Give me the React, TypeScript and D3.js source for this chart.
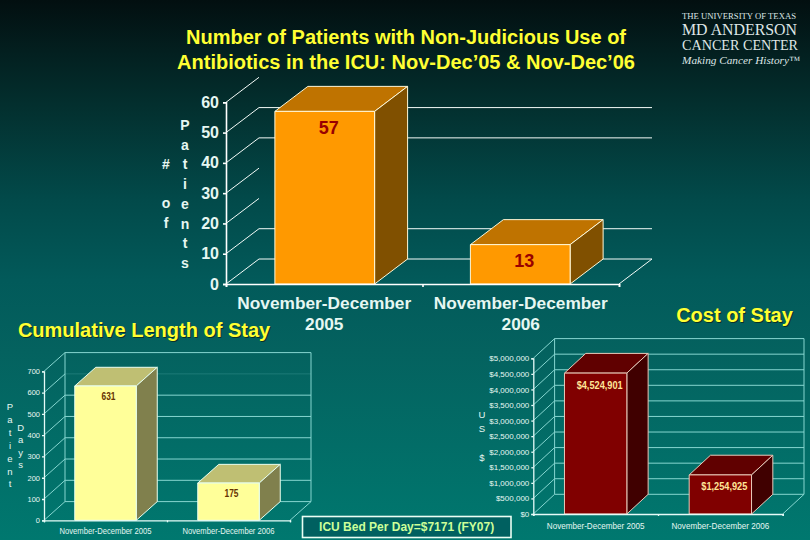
import { useEffect, useRef } from "react";
import * as d3 from "d3";

const font = "'Liberation Sans', Arial, sans-serif";

// top chart
const patientCats = ["November-December 2005", "November-December 2006"];
const patientValues = [57, 13];
const patientTicks = [0, 10, 20, 30, 40, 50, 60];
const patientGrid = [0, 10, 40, 50]; // 20, 30 and 60 do not show in the source

// lower left
const stayCats = ["November-December 2005", "November-December 2006"];
const stayValues = [631, 175];
const stayTicks = [0, 100, 200, 300, 400, 500, 600, 700];

// lower right
const costCats = ["November-December 2005", "November-December 2006"];
const costValues = [4524901, 1254925];
const costTicks = [0, 500000, 1000000, 1500000, 2000000, 2500000, 3000000, 3500000, 4000000, 4500000, 5000000];

function drawChart(svg, o) {
  const g = svg.append("g");
  const y = d3.scaleLinear().domain([0, o.ticks[o.ticks.length - 1]]).range([o.y0, o.yTop]);
  const x = d3.scaleBand().domain(o.cats).range([o.x0, o.x1]).paddingInner(o.inner).paddingOuter(o.outer);

  // back wall lines
  const wall = g.append("g").attr("stroke", o.gridColor).attr("stroke-width", o.gridWidth).attr("fill", "none");
  wall.selectAll("line.grid").data(o.grid).enter().append("line")
    .attr("x1", o.x0 + o.dx).attr("x2", o.x1 + o.dx)
    .attr("y1", (d) => y(d) - o.dy).attr("y2", (d) => y(d) - o.dy)
    .attr("stroke-opacity", (d) => (d === o.faint ? 0.2 : 1));
  wall.selectAll("line.side").data(o.ticks).enter().append("line")
    .attr("x1", o.x0).attr("x2", o.x0 + o.dx)
    .attr("y1", (d) => y(d)).attr("y2", (d) => y(d) - o.dy);
  wall.append("line").attr("x1", o.x1).attr("x2", o.x1 + o.dx).attr("y1", o.y0).attr("y2", o.y0 - o.dy);
  if (o.backWall) {
    wall.append("line").attr("x1", o.x0 + o.dx).attr("x2", o.x0 + o.dx).attr("y1", y(0) - o.dy).attr("y2", o.yTop - o.dy);
    wall.append("line").attr("x1", o.x1 + o.dx).attr("x2", o.x1 + o.dx).attr("y1", y(0) - o.dy).attr("y2", o.yTop - o.dy);
  }

  // bars, front + top + side
  const bars = g.selectAll("g.bar").data(o.values).enter().append("g")
    .attr("stroke", o.barStroke).attr("stroke-width", 1).attr("stroke-linejoin", "round");
  const left = (i) => x(o.cats[i]);
  const right = (i) => x(o.cats[i]) + x.bandwidth();
  bars.append("path").attr("fill", o.barTop).attr("d", (d, i) =>
    d3.line()([[left(i), y(d)], [left(i) + o.dx, y(d) - o.dy], [right(i) + o.dx, y(d) - o.dy], [right(i), y(d)]]) + "Z");
  bars.append("path").attr("fill", o.barSide).attr("d", (d, i) =>
    d3.line()([[right(i), y(d)], [right(i) + o.dx, y(d) - o.dy], [right(i) + o.dx, y(0) - o.dy], [right(i), y(0)]]) + "Z");
  bars.append("rect").attr("fill", o.barFront)
    .attr("x", (d, i) => left(i)).attr("y", (d) => y(d))
    .attr("width", x.bandwidth()).attr("height", (d) => y(0) - y(d));

  // value labels
  const vals = g.selectAll("text.val").data(o.values).enter().append("text")
    .attr("x", (d, i) => left(i) + x.bandwidth() / 2 + o.labelDx)
    .attr("y", (d) => y(d) + o.labelDy)
    .attr("text-anchor", "middle")
    .attr("font-family", font).attr("font-weight", "bold")
    .attr("font-size", o.labelSize).attr("fill", o.labelColor)
    .text((d) => o.labelFormat(d));
  if (o.labelLen) vals.attr("textLength", o.labelLen).attr("lengthAdjust", "spacingAndGlyphs");

  // axes
  const yAxis = g.append("g").attr("transform", `translate(${o.x0},0)`)
    .call(d3.axisLeft(y).tickValues(o.ticks).tickSize(o.tickLen).tickPadding(o.tickPad).tickFormat(o.tickFormat));
  const xAxis = g.append("g").attr("transform", `translate(0,${o.y0})`)
    .call(d3.axisBottom(d3.scaleLinear().domain([0, 2]).range([o.x0, o.x1])).tickValues([0, 1, 2]).tickSize(o.tickLen).tickFormat(() => ""));
  [yAxis, xAxis].forEach((a) => {
    a.selectAll(".domain").attr("stroke", o.axisColor).attr("stroke-width", o.axisWidth);
    a.selectAll(".tick line").attr("stroke", o.axisColor).attr("stroke-width", o.axisWidth);
  });
  yAxis.selectAll(".tick text")
    .attr("font-family", font).attr("font-weight", o.smallWeight)
    .attr("font-size", o.tickSize).attr("fill", o.textColor);

  // category labels
  g.selectAll("text.cat").data(o.cats).enter().append("text")
    .attr("text-anchor", "middle")
    .attr("font-family", font).attr("font-weight", o.catWeight)
    .attr("font-size", o.catSize).attr("fill", o.textColor)
    .each(function (d, i) {
      const t = d3.select(this);
      const cx = o.x0 + ((o.x1 - o.x0) * (i + 0.5)) / 2;
      if (o.catLen) t.attr("textLength", o.catLen).attr("lengthAdjust", "spacingAndGlyphs");
      const lines = o.catWrap ? [d.slice(0, d.lastIndexOf(" ")), d.slice(d.lastIndexOf(" ") + 1)] : [d];
      lines.forEach((s, k) => {
        t.append("tspan").attr("x", cx).attr("y", o.y0 + o.catY + k * o.catLine).text(s);
      });
    });

  // vertical axis titles, one letter under the other
  o.vertical.forEach((v) => {
    g.selectAll(null).data(v.text.split("")).enter().append("text")
      .attr("x", v.x).attr("y", (d, i) => v.y + i * v.step)
      .attr("text-anchor", "middle")
      .attr("font-family", font).attr("font-weight", o.smallWeight)
      .attr("font-size", o.vertSize).attr("fill", o.textColor)
      .text((d) => d);
  });
}

export default function App() {
  const ref = useRef(null);

  useEffect(() => {
    ref.current.innerHTML = "";
    const svg = d3.select(ref.current);

    const defs = svg.append("defs");
    const grad = defs.append("linearGradient").attr("id", "bg").attr("x1", 0).attr("x2", 0).attr("y1", 0).attr("y2", 1);
    [[0, "#020f10"], [0.1, "#032020"], [0.2, "#03302f"], [0.37, "#024a4a"], [0.52, "#025a5a"], [0.65, "#04625f"], [1, "#00786f"]].forEach(([p, c]) =>
      grad.append("stop").attr("offset", p).attr("stop-color", c));
    svg.append("rect").attr("width", 810).attr("height", 540).attr("fill", "url(#bg)");

    drawChart(svg, {
      cats: patientCats, values: patientValues, ticks: patientTicks, grid: patientGrid,
      x0: 226, x1: 619, y0: 284, yTop: 102.3, dx: 33, dy: 25, inner: 0.49, outer: 0.25,
      gridColor: "#f4fbf8", gridWidth: 1, axisColor: "#ffffff", axisWidth: 1.6, barStroke: "#fff8d8",
      barFront: "#ff9900", barTop: "#bf7300", barSide: "#805000",
      labelDx: 4, labelDy: 22.5, labelSize: 18, labelColor: "#990000", labelFormat: (d) => String(d),
      tickFormat: (d) => String(d), tickLen: 3, tickPad: 4, tickSize: 16, textColor: "#e6f7f2",
      catSize: 17.3, catY: 24.5, catLine: 21.5, catWrap: true, catWeight: "bold",
      vertSize: 14, backWall: false, smallWeight: "bold",
      vertical: [
        { text: "Patients", x: 185, y: 130, step: 19.7 },
        { text: "#", x: 166, y: 169, step: 0 },
        { text: "of", x: 166, y: 208, step: 20 },
      ],
    });

    drawChart(svg, {
      cats: stayCats, values: stayValues, ticks: stayTicks, grid: stayTicks, faint: 600,
      x0: 44, x1: 290, y0: 520.3, yTop: 371.3, dx: 21, dy: 18.7, inner: 0.5, outer: 0.25,
      gridColor: "#86d6d0", gridWidth: 1, axisColor: "#e6fbf8", axisWidth: 1.3, barStroke: "#e8fff0",
      barFront: "#ffff99", barTop: "#bfbf73", barSide: "#80804d",
      labelDx: 3, labelDy: 14, labelSize: 10.5, labelLen: 14, labelColor: "#663300", labelFormat: (d) => String(d),
      tickFormat: (d) => String(d), tickLen: 2, tickPad: 2, tickSize: 7.5, textColor: "#e6f7f2",
      catSize: 8.6, catLen: 92, catY: 13.5, catLine: 0, catWrap: false, catWeight: "normal",
      vertSize: 9.5, backWall: true, smallWeight: "normal",
      vertical: [
        { text: "Patient", x: 10, y: 410, step: 12.9 },
        { text: "Days", x: 20.7, y: 430.7, step: 12.5 },
      ],
    });

    drawChart(svg, {
      cats: costCats, values: costValues, ticks: costTicks, grid: costTicks,
      x0: 533.3, x1: 782.7, y0: 514, yTop: 358.3, dx: 21.3, dy: 19.7, inner: 0.5, outer: 0.25,
      gridColor: "#86d6d0", gridWidth: 1, axisColor: "#e6fbf8", axisWidth: 1.3, barStroke: "#e8c8b8",
      barFront: "#800000", barTop: "#600000", barSide: "#400000",
      labelDx: 4, labelDy: 15.5, labelSize: 10.5, labelLen: 46, labelColor: "#ffe699", labelFormat: d3.format("$,"),
      tickFormat: d3.format("$,"), tickLen: 2, tickPad: 2, tickSize: 8, textColor: "#e6f7f2",
      catSize: 8.6, catLen: 97.7, catY: 15, catLine: 0, catWrap: false, catWeight: "normal",
      vertSize: 9.5, backWall: true, smallWeight: "normal",
      vertical: [
        { text: "US", x: 482, y: 418, step: 14 },
        { text: "$", x: 482, y: 460.7, step: 0 },
      ],
    });

    // headings
    const heading = (s, x, y, size, anchor = "middle", shadow = false) => {
      if (shadow) {
        svg.append("text").attr("x", x + 1).attr("y", y + 1).attr("text-anchor", anchor)
          .attr("font-family", font).attr("font-weight", "bold").attr("font-size", size)
          .attr("fill", "#0a3028").text(s);
      }
      svg.append("text").attr("x", x).attr("y", y).attr("text-anchor", anchor)
        .attr("font-family", font).attr("font-weight", "bold").attr("font-size", size)
        .attr("fill", "#ffff33").text(s);
    };
    heading("Number of Patients with Non-Judicious Use of", 406, 44, 20);
    heading("Antibiotics in the ICU: Nov-Dec\u201905 & Nov-Dec\u201906", 406, 69, 20);
    heading("Cumulative Length of Stay", 144, 336.7, 20, "middle", true);
    heading("Cost of Stay", 734.5, 322, 20, "middle", true);

    // note box
    svg.append("rect").attr("x", 302.5).attr("y", 516.5).attr("width", 208.5).attr("height", 21)
      .attr("fill", "#006060").attr("stroke", "#eafff4").attr("stroke-width", 1.6);
    svg.append("text").attr("x", 406.6).attr("y", 531).attr("text-anchor", "middle")
      .attr("font-family", font).attr("font-weight", "bold").attr("font-size", 12)
      .attr("fill", "#ccff99").text("ICU Bed Per Day=$7171 (FY07)");

    // logo
    const logo = (s, y, size, len, italic = false) => {
      svg.append("text").attr("x", 682).attr("y", y)
        .attr("font-family", "'Liberation Serif', serif").attr("font-size", size)
        .attr("font-style", italic ? "italic" : "normal")
        .attr("fill", "#dfe6e6").attr("textLength", len).attr("lengthAdjust", "spacingAndGlyphs").text(s);
    };
    logo("THE UNIVERSITY OF TEXAS", 19, 9, 114);
    logo("MD ANDERSON", 35, 16, 115);
    logo("CANCER CENTER", 50, 15.5, 116);
    logo("Making Cancer History\u2122", 64, 11, 118, true);
  }, []);

  return <svg ref={ref} width={810} height={540} style={{ position: "absolute", left: 0, top: 0 }} />;
}
